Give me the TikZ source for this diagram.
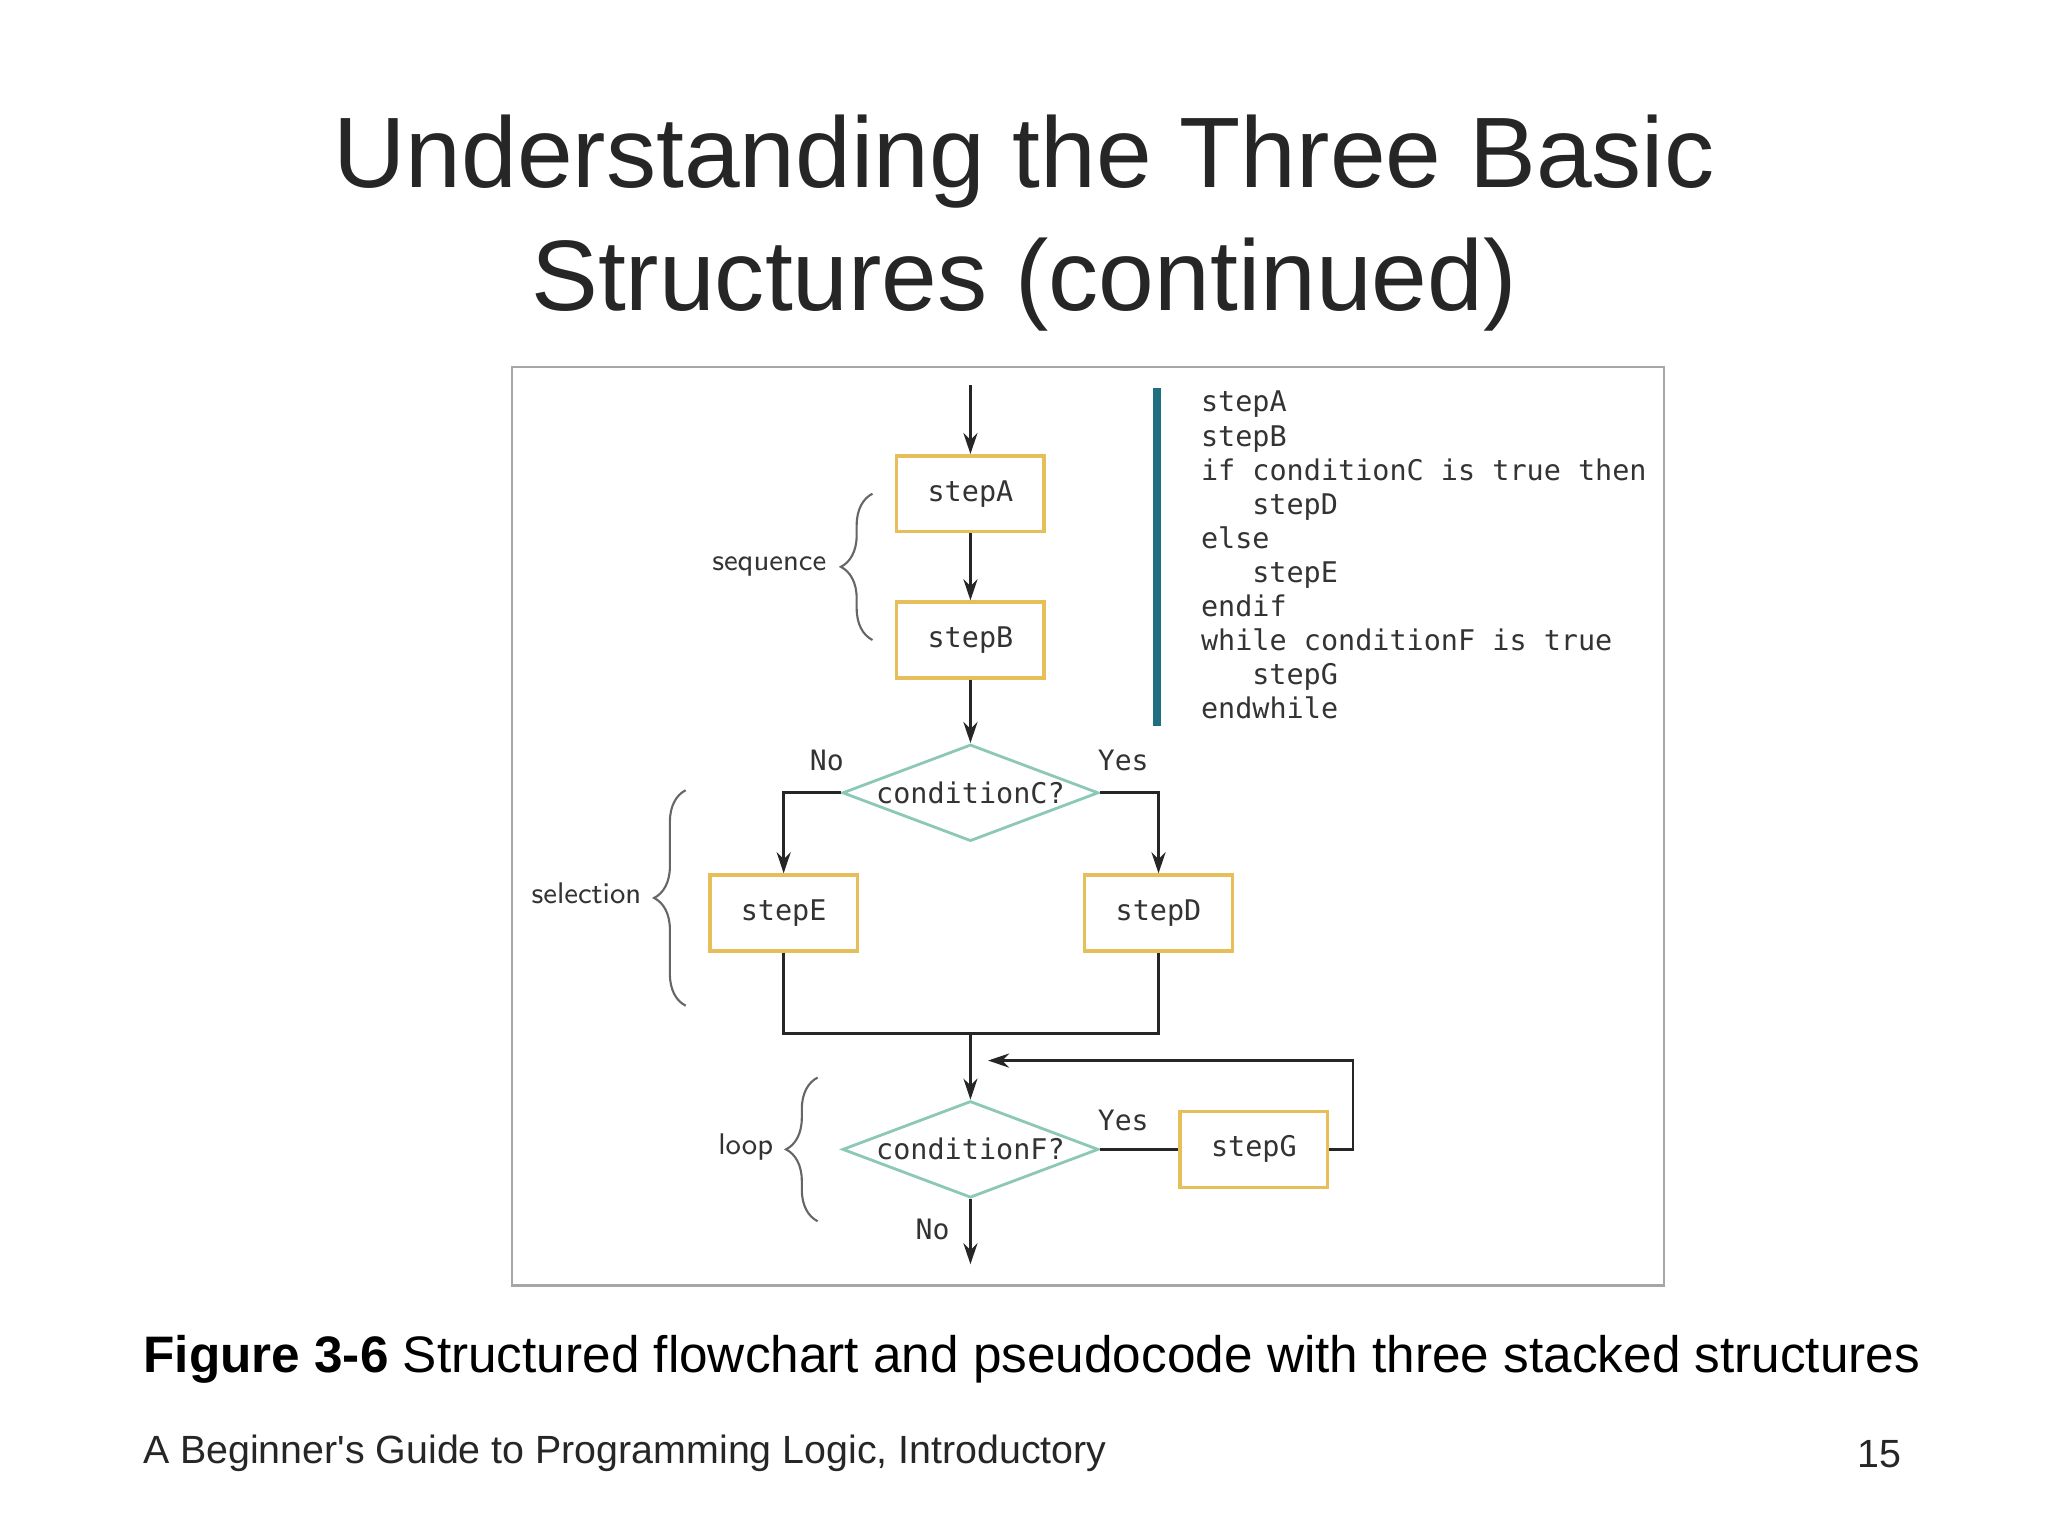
\documentclass[tikz,border=0pt]{standalone}
\usepackage{fontspec}
\setmainfont{Liberation Sans}
\setmonofont{DejaVu Sans Mono}
\usetikzlibrary{shapes.geometric,arrows.meta,decorations.pathreplacing}
\definecolor{gold}{HTML}{E6BE5A}
\definecolor{teal}{HTML}{1F6F80}
\definecolor{dteal}{HTML}{8CC8B8}
\definecolor{txt}{HTML}{333333}
\begin{document}
\begin{tikzpicture}[x=0.013061cm,y=-0.013061cm,
  stepbox/.style={draw=gold,line width=1pt,minimum width=113*0.013061cm,minimum height=58*0.013061cm,font=\ttfamily\fontsize{8.1}{10}\selectfont,text=txt,fill=white},
  cond/.style={diamond,draw=dteal,line width=0.8pt,aspect=2.65,minimum width=196*0.013061cm,minimum height=74*0.013061cm,inner sep=0pt,font=\ttfamily\fontsize{8.1}{10}\selectfont,text=txt},
  conn/.style={draw=black!85,line width=0.8pt},
  arr/.style={conn,-{Stealth[length=6pt,width=4pt]}},
  brc/.style={draw=black!60,line width=0.6pt,decorate,decoration={brace,amplitude=9pt}},
  lbl/.style={font=\sffamily\fontsize{8.5}{10}\selectfont,text=txt},
  yn/.style={font=\ttfamily\fontsize{8}{10}\selectfont,text=txt}]
\useasboundingbox (0,0) rectangle (1568,1176);
\node[font=\fontsize{28.5}{35}\selectfont,text=black!85,align=center] (title) at (784,171) {Understanding the Three Basic\\Structures (continued)};
\draw[black!35,line width=0.8pt] (392,281) rectangle (1274,984);
\coordinate (top) at (743,295);
\node[stepbox] (A) at (743,378) {stepA};
\node[stepbox] (B) at (743,490) {stepB};
\node[cond] (C) at (743,607) {conditionC?};
\node[stepbox] (E) at (600,699) {stepE};
\node[stepbox] (D) at (887,699) {stepD};
\node[cond] (F) at (743,880) {conditionF?};
\node[stepbox] (G) at (960,880) {stepG};
\coordinate (join) at (743,791);
\coordinate (back) at (743,812);
\coordinate (out) at (743,968);
\draw[arr] (top) -- (A);
\draw[arr] (A) -- (B);
\draw[arr] (B) -- (C);
\draw[arr] (C.west) -| (E.north);
\draw[arr] (C.east) -| (D.north);
\draw[conn] (E.south) |- (join) -| (D.south);
\draw[arr] (join) -- (F.north);
\draw[conn] (F.east) -- (G.west);
\draw[arr] (G.east) -- ++(18,0) |- ([xshift=5]back);
\draw[arr] (F.south) -- (out);
\node[yn] (no1) at (633,582) {No};
\node[yn] (yes1) at (860,582) {Yes};
\node[yn] (yes2) at (860,858) {Yes};
\node[yn] (no2) at (714,941) {No};
\draw[brc] (668,490) -- (668,378);
\node[lbl] (seq) at (589,434) {sequence};
\draw[brc] (525,770) -- (525,605);
\node[lbl] (sel) at (449,684) {selection};
\draw[brc] (626,935) -- (626,825);
\node[lbl] (loop) at (571,878) {loop};
\fill[teal] (883,297) rectangle (889,556);
\node[anchor=north west,font=\ttfamily\fontsize{8.1}{9.7}\selectfont,text=txt,align=left,inner sep=0pt] (code) at (919,299) {stepA\\stepB\\if conditionC is true then\\\hspace*{1.8em}stepD\\else\\\hspace*{1.8em}stepE\\endif\\while conditionF is true\\\hspace*{1.8em}stepG\\endwhile};
\node[font=\fontsize{14.6}{17}\selectfont,text=black] (cap) at (790,1041) {\textbf{Figure 3-6} Structured flowchart and pseudocode with three stacked structures};
\node[anchor=west,font=\fontsize{11.2}{13}\selectfont,text=black!85] (foot) at (100,1113) {A Beginner\textquotesingle s Guide to Programming Logic, Introductory};
\node[anchor=east,font=\fontsize{11.2}{13}\selectfont,text=black!85] (pg) at (1465,1113) {15};
\end{tikzpicture}
\end{document}
